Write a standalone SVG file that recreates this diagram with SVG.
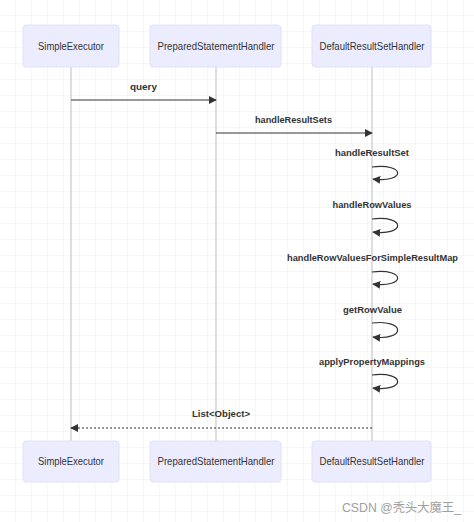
<svg xmlns="http://www.w3.org/2000/svg" width="474" height="522" viewBox="0 0 474 522">
<style>
.actor{fill:#ECECFF;stroke:#e2e2f4;stroke-width:1}
.alabel{font-family:"Liberation Sans",Arial,sans-serif;font-size:11px;fill:#333;text-anchor:middle}
.mlabel{font-family:"Liberation Sans",Arial,sans-serif;font-size:9.5px;font-weight:bold;fill:#333;text-anchor:middle}
.life{stroke:#d3d3d3;stroke-width:1.5;fill:none}
.msg{stroke:#333;stroke-width:1.2;fill:none}
.dash{stroke:#333;stroke-width:1.2;fill:none;stroke-dasharray:2,2}
.wm{font-family:"Liberation Sans","Noto Sans CJK SC",sans-serif;font-size:12.5px;fill:#a0a0a0}
</style>
<defs>
<pattern id="grid" width="16" height="16" patternUnits="userSpaceOnUse">
<path d="M16 0V16M0 16H16" stroke="#eeeeee" stroke-width="1" fill="none"/>
</pattern>
<marker id="ah" viewBox="0 0 10 10" refX="9" refY="5" markerWidth="8" markerHeight="8" markerUnits="userSpaceOnUse" orient="auto">
<path d="M0,0L10,5L0,10z" fill="#333"/>
</marker>
</defs>
<rect width="474" height="522" fill="#fff"/>
<rect width="474" height="522" fill="url(#grid)"/>
<g id="lifelines">
<line class="life" x1="71" y1="67" x2="71" y2="441"/>
<line class="life" x1="216" y1="67" x2="216" y2="441"/>
<line class="life" x1="372" y1="67" x2="372" y2="441"/>
</g>
<g id="node-simpleexecutor-top"><rect class="actor" x="23" y="25" width="96" height="42" rx="3"/><text class="alabel" x="71" y="50" textLength="66" lengthAdjust="spacingAndGlyphs">SimpleExecutor</text></g>
<g id="node-psh-top"><rect class="actor" x="150" y="25" width="131" height="42" rx="3"/><text class="alabel" x="216" y="50" textLength="117" lengthAdjust="spacingAndGlyphs">PreparedStatementHandler</text></g>
<g id="node-drsh-top"><rect class="actor" x="312" y="25" width="119" height="42" rx="3"/><text class="alabel" x="372" y="50" textLength="105" lengthAdjust="spacingAndGlyphs">DefaultResultSetHandler</text></g>
<g id="node-simpleexecutor-bottom"><rect class="actor" x="23" y="441" width="96" height="41" rx="3"/><text class="alabel" x="71" y="465" textLength="66" lengthAdjust="spacingAndGlyphs">SimpleExecutor</text></g>
<g id="node-psh-bottom"><rect class="actor" x="150" y="441" width="131" height="41" rx="3"/><text class="alabel" x="216" y="465" textLength="117" lengthAdjust="spacingAndGlyphs">PreparedStatementHandler</text></g>
<g id="node-drsh-bottom"><rect class="actor" x="312" y="441" width="119" height="41" rx="3"/><text class="alabel" x="372" y="465" textLength="105" lengthAdjust="spacingAndGlyphs">DefaultResultSetHandler</text></g>
<g id="connectors">
<line class="msg" x1="71" y1="100" x2="216" y2="100" marker-end="url(#ah)"/>
<line class="msg" x1="216" y1="133" x2="372" y2="133" marker-end="url(#ah)"/>
<path class="msg" d="M372,167 C406,163 406,183 373,179" marker-end="url(#ah)"/>
<path class="msg" d="M372,219 C406,215 406,236 373,232" marker-end="url(#ah)"/>
<path class="msg" d="M372,272 C406,268 406,288 373,284" marker-end="url(#ah)"/>
<path class="msg" d="M372,323 C406,319 406,341 373,337" marker-end="url(#ah)"/>
<path class="msg" d="M372,375 C406,371 406,392 373,388" marker-end="url(#ah)"/>
<line class="dash" x1="372" y1="428" x2="71" y2="428" marker-end="url(#ah)"/>
</g>
<g id="labels">
<text class="mlabel" x="143.5" y="90" textLength="27" lengthAdjust="spacingAndGlyphs">query</text>
<text class="mlabel" x="293.5" y="123" textLength="77" lengthAdjust="spacingAndGlyphs">handleResultSets</text>
<text class="mlabel" x="372" y="156" textLength="74" lengthAdjust="spacingAndGlyphs">handleResultSet</text>
<text class="mlabel" x="372" y="208" textLength="79" lengthAdjust="spacingAndGlyphs">handleRowValues</text>
<text class="mlabel" x="372.5" y="261" textLength="171" lengthAdjust="spacingAndGlyphs">handleRowValuesForSimpleResultMap</text>
<text class="mlabel" x="372.5" y="313" textLength="59" lengthAdjust="spacingAndGlyphs">getRowValue</text>
<text class="mlabel" x="372" y="365" textLength="106" lengthAdjust="spacingAndGlyphs">applyPropertyMappings</text>
<text class="mlabel" x="221" y="417" textLength="58" lengthAdjust="spacingAndGlyphs">List&lt;Object&gt;</text>
</g>
<text class="wm" x="342" y="512" textLength="119" lengthAdjust="spacingAndGlyphs">CSDN @秃头大魔王_</text>
</svg>
